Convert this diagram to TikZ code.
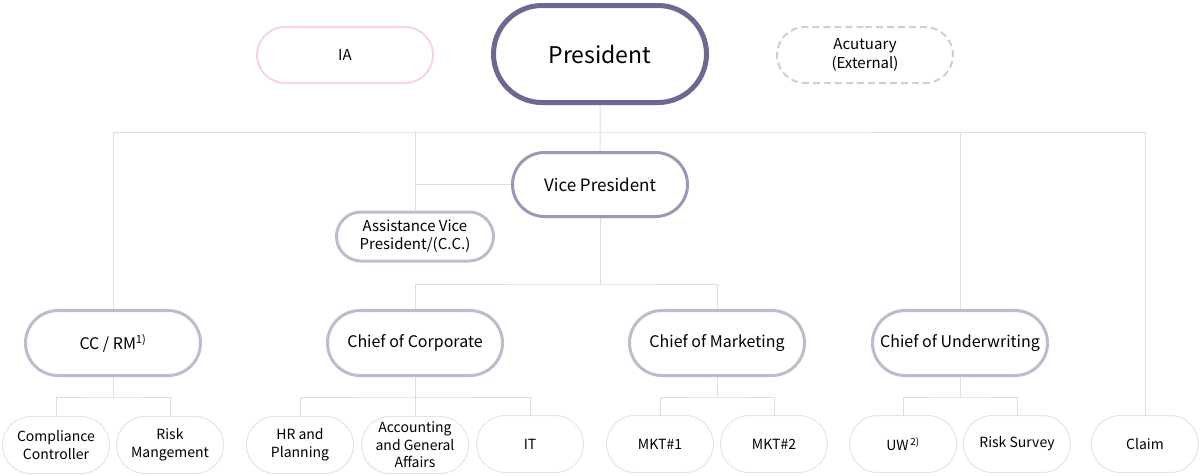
\documentclass[tikz,border=0pt]{standalone}
\usepackage{fontspec}
\setmainfont{Noto Sans CJK KR}
\usetikzlibrary{positioning}
\usetikzlibrary{shapes.misc}
\definecolor{mpres}{HTML}{6E6890}
\definecolor{mvp}{HTML}{9C97B4}
\definecolor{mchief}{HTML}{BEBBCC}
\definecolor{mia}{HTML}{FBD5D5}
\definecolor{mext}{HTML}{CFCCDF}
\definecolor{munit}{HTML}{E4E4E4}
\definecolor{mlink}{HTML}{DDDDDD}
\tikzset{box/.style = {rounded rectangle, draw, inner sep = 0, align = center}}
\tikzset{pres/.style = {box, draw = mpres, line width = 5,
                        minimum width = 213, minimum height = 97,
                        font = \fontsize{23}{27}\selectfont}}
\tikzset{vpbox/.style = {box, draw = mvp, line width = 3,
                         minimum width = 175, minimum height = 64,
                         font = \fontsize{17}{20}\selectfont}}
\tikzset{chief/.style = {box, draw = mchief, line width = 3,
                         minimum width = 175, minimum height = 65,
                         font = \fontsize{16}{19}\selectfont}}
\tikzset{side/.style = {box, line width = 2,
                        minimum width = 176, minimum height = 56,
                        font = \fontsize{15}{19}\selectfont}}
\tikzset{unit/.style = {box, draw = munit, line width = 1,
                        minimum width = 107, minimum height = 57,
                        font = \fontsize{14}{18}\selectfont}}
\tikzset{link/.style = {mlink, line width = 1}}

\begin{document}
\begin{tikzpicture}[x = 1pt, y = -1pt]
    \useasboundingbox [fill = white] (0, 0) rectangle (1200, 475);

    \node [pres] (pres) at (600, 54) {President};
    \node [side, draw = mia] (ia) at (345, 55) {IA};
    \node [side, draw = mext, dashed, dash pattern = on 7 off 4] (act) at (865, 55) {Acutuary\\(External)};

    \node [vpbox] (vp) at (600, 184.5) {Vice President};
    \node [chief, minimum width = 157, minimum height = 49,
           font = \fontsize{15}{18}\selectfont] (avp) at (415, 236.5) {Assistance Vice\\President/(C.C.)};

    \node [chief] (ccrm) at (113, 343) {CC / RM\textsuperscript{1)}};
    \node [chief] (corp) at (415, 343) {Chief of Corporate};
    \node [chief] (mkt) at (717, 343) {Chief of Marketing};
    \node [chief] (uw) at (960, 343) {Chief of Underwriting};

    \node [unit] (comp) at (56, 445) {Compliance\\Controller};
    \node [unit] (risk) at (170, 445) {Risk\\Mangement};
    \node [unit] (hr) at (300, 445) {HR and\\Planning};
    \node [unit, font = \fontsize{14}{17.5}\selectfont] (acc) at (415, 445) {Accounting\\and General\\Affairs};
    \node [unit] (it) at (530, 444) {IT};
    \node [unit] (mkta) at (660, 444) {MKT\#1};
    \node [unit] (mktb) at (774, 444) {MKT\#2};
    \node [unit] (uwu) at (903, 444) {UW\textsuperscript{\,2)}};
    \node [unit] (survey) at (1017, 444) {Risk Survey};
    \node [unit] (claim) at (1145, 444) {Claim};

    % buses
    \coordinate (busa) at (600, 132);
    \coordinate (busb) at (600, 284);
    \coordinate (busc) at (600, 397);

    \draw [link] (pres) -- (vp);
    \draw [link] (ccrm.north) |- (busa) -| (claim.north);
    \draw [link] (avp.north) -- (avp.north |- busa);
    \draw [link] (uw.north) -- (uw.north |- busa);
    \draw [link] (avp.north |- vp.west) -- (vp.west);

    \draw [link] (vp.south) -- (busb);
    \draw [link] (corp.north) |- (busb) -| (mkt.north);

    \foreach \p/\a/\b in {ccrm/comp/risk, corp/hr/it, mkt/mkta/mktb, uw/uwu/survey} {
        \draw [link] (\p.south) -- (\p.south |- busc);
        \draw [link] (\a.north) |- (\p.south |- busc) -| (\b.north);
    }
    \draw [link] (corp.south |- busc) -- (acc.north);

  \end{tikzpicture}
\end{document}
